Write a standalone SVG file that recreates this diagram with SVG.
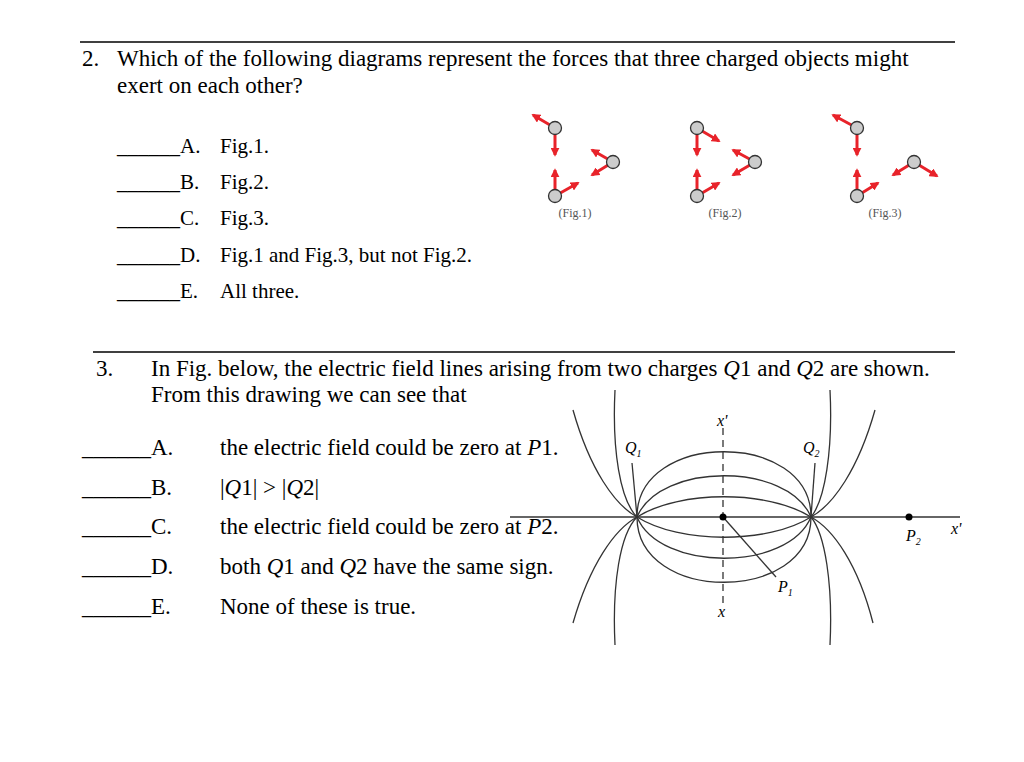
<svg xmlns="http://www.w3.org/2000/svg" width="1024" height="762" viewBox="0 0 1024 762">
<defs>
<marker id="ah" viewBox="0 0 10 10" refX="8" refY="5" markerWidth="3" markerHeight="3" orient="auto"><path d="M0,0L10,5L0,10z" fill="#e8232a"/></marker>
<style>
text{font-family:"Liberation Serif",serif;font-size:23px;fill:#000}
.q2{font-size:21px}
.s{font-size:12px;fill:#555}
.m{font-size:16px;font-style:italic}
.f{stroke:#e8232a;stroke-width:3;fill:none;marker-end:url(#ah)}
.b{fill:#ccc;stroke:#333;stroke-width:1.3}
.l{fill:none;stroke:#333;stroke-width:1.3}
</style>
</defs>
<rect width="1024" height="762" fill="#fff"/>
<line x1="80" y1="42" x2="955" y2="42" stroke="#000" stroke-width="1.3"/>
<text x="82" y="66">2.</text>
<text x="117" y="66">Which of the following diagrams represent the forces that three charged objects might</text>
<text x="117" y="93">exert on each other?</text>
<text class="q2" x="117" y="153">______A.</text><text class="q2" x="220" y="153">Fig.1.</text>
<text class="q2" x="117" y="189">______B.</text><text class="q2" x="220" y="189">Fig.2.</text>
<text class="q2" x="117" y="225">______C.</text><text class="q2" x="220" y="225">Fig.3.</text>
<text class="q2" x="117" y="262">______D.</text><text class="q2" x="220" y="262">Fig.1 and Fig.3, but not Fig.2.</text>
<text class="q2" x="117" y="298">______E.</text><text class="q2" x="220" y="298">All three.</text>
<g id="fig1">
<line class="f" x1="555" y1="128" x2="533" y2="115"/><line class="f" x1="555" y1="128" x2="555" y2="155"/>
<line class="f" x1="613" y1="162" x2="592" y2="150"/><line class="f" x1="613" y1="162" x2="592" y2="175"/>
<line class="f" x1="555" y1="196" x2="555" y2="170"/><line class="f" x1="555" y1="196" x2="578" y2="183"/>
<circle class="b" cx="555" cy="128" r="6.5"/><circle class="b" cx="613" cy="162" r="6.5"/><circle class="b" cx="555" cy="196" r="6.5"/>
<text class="s" x="575" y="217" text-anchor="middle">(Fig.1)</text>
</g>
<g id="fig2">
<line class="f" x1="697" y1="128" x2="719" y2="141"/><line class="f" x1="697" y1="128" x2="697" y2="155"/>
<line class="f" x1="755" y1="162" x2="733" y2="150"/><line class="f" x1="755" y1="162" x2="733" y2="175"/>
<line class="f" x1="697" y1="196" x2="697" y2="170"/><line class="f" x1="697" y1="196" x2="719" y2="183"/>
<circle class="b" cx="697" cy="128" r="6.5"/><circle class="b" cx="755" cy="162" r="6.5"/><circle class="b" cx="697" cy="196" r="6.5"/>
<text class="s" x="725" y="217" text-anchor="middle">(Fig.2)</text>
</g>
<g id="fig3">
<line class="f" x1="857" y1="128" x2="833" y2="115"/><line class="f" x1="857" y1="128" x2="857" y2="155"/>
<line class="f" x1="914" y1="162" x2="893" y2="175"/><line class="f" x1="914" y1="162" x2="937" y2="176"/>
<line class="f" x1="857" y1="196" x2="857" y2="170"/><line class="f" x1="857" y1="196" x2="878" y2="183"/>
<circle class="b" cx="857" cy="128" r="6.5"/><circle class="b" cx="914" cy="162" r="6.5"/><circle class="b" cx="857" cy="196" r="6.5"/>
<text class="s" x="885" y="217" text-anchor="middle">(Fig.3)</text>
</g>
<line x1="93" y1="352" x2="955" y2="352" stroke="#000" stroke-width="1.3"/>
<text x="96" y="376">3.</text>
<text x="151" y="376">In Fig. below, the electric field lines arising from two charges <tspan font-style="italic">Q</tspan>1 and <tspan font-style="italic">Q</tspan>2 are shown.</text>
<text x="151" y="402">From this drawing we can see that</text>
<g id="field">
<line class="l" x1="510" y1="517" x2="960" y2="517"/>
<line class="l" x1="723" y1="428" x2="723" y2="604" stroke-dasharray="7,5"/>
<path class="l" d="M637,517C637,430 811,430 811,517C811,604 637,604 637,517"/>
<path class="l" d="M637,517C660,462 788,462 811,517C788,572 660,572 637,517"/>
<path class="l" d="M637,517C680,490 768,490 811,517C768,544 680,544 637,517"/>
<path class="l" d="M573,410C590,470 615,505 637,517C615,529 590,564 573,623"/>
<path class="l" d="M615,390C612,450 620,500 637,517C620,534 612,584 615,645"/>
<path class="l" d="M875,410C858,470 833,505 811,517C833,529 858,564 873,623"/>
<path class="l" d="M830,390C833,450 825,500 811,517C825,534 833,584 830,645"/>
<line class="l" x1="632" y1="463" x2="637" y2="517"/>
<line class="l" x1="815" y1="463" x2="811" y2="517"/>
<line class="l" x1="723" y1="517" x2="776" y2="577"/>
<circle cx="723" cy="517" r="3.5"/><circle cx="909" cy="517" r="3.5"/>
<text class="m" x="625" y="453">Q<tspan font-size="10" dy="4">1</tspan></text>
<text class="m" x="803" y="453">Q<tspan font-size="10" dy="4">2</tspan></text>
<text class="m" x="778" y="592">P<tspan font-size="10" dy="4">1</tspan></text>
<text class="m" x="906" y="541">P<tspan font-size="10" dy="4">2</tspan></text>
<text class="m" x="951" y="534">x'</text>
<text class="m" x="717" y="426">x'</text>
<text class="m" x="718" y="617">x</text>
</g>
<text x="82" y="455">______A.</text><text x="220" y="455">the electric field could be zero at <tspan font-style="italic">P</tspan>1.</text>
<text x="82" y="495">______B.</text><text x="220" y="495">|<tspan font-style="italic">Q</tspan>1| &gt; |<tspan font-style="italic">Q</tspan>2|</text>
<text x="82" y="534">______C.</text><text x="220" y="534">the electric field could be zero at <tspan font-style="italic">P</tspan>2.</text>
<text x="82" y="574">______D.</text><text x="220" y="574">both <tspan font-style="italic">Q</tspan>1 and <tspan font-style="italic">Q</tspan>2 have the same sign.</text>
<text x="82" y="614">______E.</text><text x="220" y="614">None of these is true.</text>
</svg>
